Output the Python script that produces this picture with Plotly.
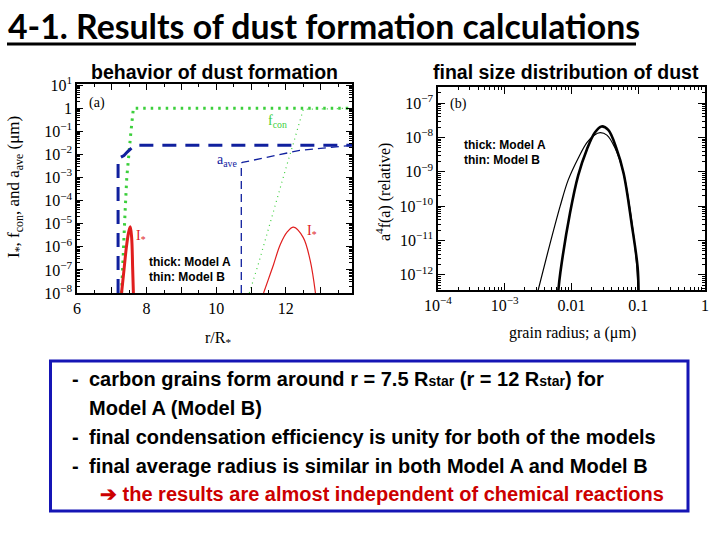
import plotly.graph_objects as go

W, H = 720, 540

# ---------------- data: panel (a) ----------------
# Model A (thick)
fconA_r = [7.28, 7.33, 7.38, 7.43, 7.48, 7.55, 7.62, 13.9]
fconA_v = [1e-8, 1e-6, 3e-5, 1e-3, 1e-2, 1e-1, 1.0, 1.0]
aaveA_r = [7.18, 7.18, 7.25, 7.35, 7.45, 7.55, 7.65, 13.9]
aaveA_v = [1e-8, 7e-3, 7.5e-3, 9e-3, 1.3e-2, 1.9e-2, 2.5e-2, 2.5e-2]
IA_r = [7.28, 7.35, 7.42, 7.48, 7.53, 7.57, 7.60, 7.62]
IA_v = [1e-8, 1e-7, 1e-6, 4e-6, 7.4e-6, 2.5e-6, 1e-7, 1e-8]
# Model B (thin)
fconB_r = [10.95, 11.2, 11.5, 11.8, 12.0, 12.2, 12.35, 12.5, 13.9]
fconB_v = [1e-8, 1.6e-7, 6e-6, 2.5e-4, 2.5e-3, 2.5e-2, 0.16, 0.9, 1.0]
aaveB_r = [10.72, 10.72, 10.75, 11.5, 12.4, 13.9]
aaveB_v = [1e-8, 4.2e-3, 4.5e-3, 8e-3, 1.5e-2, 2.5e-2]
IB_r = [11.36, 11.5, 11.64, 11.84, 12.04, 12.22, 12.5, 12.7, 12.85]
IB_v = [1e-8, 4e-8, 1.6e-7, 1.26e-6, 4.4e-6, 7.1e-6, 2.5e-6, 2.5e-7, 1e-8]

# ---------------- data: panel (b) ----------------
sizeA_a = [0.0063, 0.0068, 0.0095, 0.0126, 0.017, 0.0224, 0.0282, 0.0355, 0.0468, 0.0603, 0.0794, 0.0977, 0.101]
sizeA_f = [3.0e-13, 1.15e-12, 6.3e-11, 7.9e-10, 4.5e-9, 1.4e-8, 2.1e-8, 1.66e-8, 5e-9, 9.1e-10, 3.2e-11, 1.7e-12, 3.0e-13]
sizeB_a = [0.00309, 0.00447, 0.00676, 0.00891, 0.0126, 0.017, 0.0219, 0.0269, 0.0339, 0.0447, 0.0603, 0.0794, 0.0955, 0.0989]
sizeB_f = [3.0e-13, 5e-12, 1e-10, 5.75e-10, 2.5e-9, 7.1e-9, 1.17e-8, 1.38e-8, 1.17e-8, 5e-9, 8.9e-10, 4e-11, 1.6e-12, 3.0e-13]

# tick labels
ya_vals = [10, 1, 1e-1, 1e-2, 1e-3, 1e-4, 1e-5, 1e-6, 1e-7, 1e-8]
ya_text = ["10<sup>1</sup>", "1"] + ["10<sup>\u2212%d</sup>" % k for k in range(1, 9)]
xa_vals = [6, 7, 8, 9, 10, 11, 12, 13]
xa_text = ["6", "", "8", "", "10", "", "12", ""]
yb_vals = [1e-7, 1e-8, 1e-9, 1e-10, 1e-11, 1e-12]
yb_text = ["10<sup>\u2212%d</sup>" % k for k in range(7, 13)]
xb_vals = [1e-4, 1e-3, 1e-2, 1e-1, 1]
xb_text = ["10<sup>\u22124</sup>", "10<sup>\u22123</sup>", "0.01", "0.1", "1"]

GREEN = "#3ccf3c"
BLUE = "#10209e"
RED = "#e01e1e"

fig = go.Figure()

def add(x, y, color, width, dash, xa="x", ya="y", shape="linear"):
    fig.add_trace(go.Scatter(x=x, y=y, mode="lines", xaxis=xa, yaxis=ya,
                             line=dict(color=color, width=width, dash=dash, shape=shape),
                             showlegend=False, hoverinfo="skip"))

add(fconB_r, fconB_v, GREEN, 1.2, "1px,4px")
add(aaveB_r, aaveB_v, BLUE, 1.3, "8px,5px")
add(IB_r, IB_v, RED, 1.2, "solid", shape="spline")
add(fconA_r, fconA_v, GREEN, 3, "2.5px,5px")
add(aaveA_r, aaveA_v, BLUE, 3, "14px,9px")
add(IA_r, IA_v, RED, 3, "solid", shape="spline")

add(sizeB_a, sizeB_f, "black", 1.2, "solid", "x2", "y2", "spline")
add(sizeA_a, sizeA_f, "black", 2.6, "solid", "x2", "y2", "spline")

def px(x): return x / W
def py(y): return 1 - y / H

tickfont = dict(family="Liberation Serif, DejaVu Serif, serif", size=16, color="black")
common = dict(showline=True, linecolor="black", linewidth=1.5, mirror="allticks",
              ticks="inside", tickcolor="black", showgrid=False, zeroline=False,
              tickfont=tickfont, automargin=False)
logminor = dict(ticks="inside", ticklen=3, dtick="D1", tickcolor="black", tickwidth=0.8)

fig.update_layout(
    width=W, height=H, margin=dict(l=0, r=0, t=0, b=0, pad=0, autoexpand=False),
    paper_bgcolor="white", plot_bgcolor="white", showlegend=False,
    xaxis=dict(domain=[px(77), px(352)], range=[6, 13.9], anchor="y",
               tickvals=xa_vals, ticktext=xa_text, ticklen=6,
               minor=dict(ticks="inside", ticklen=3, dtick=0.5, tickcolor="black"), **common),
    yaxis=dict(domain=[py(293), py(84)], type="log", range=[-8, 1.05], anchor="x",
               tickvals=ya_vals, ticktext=ya_text, ticklen=6, minor=logminor, **common),
    xaxis2=dict(domain=[px(438), px(705)], type="log", range=[-4, 0], anchor="y2",
                tickvals=xb_vals, ticktext=xb_text, ticklen=7, minor=logminor, **common),
    yaxis2=dict(domain=[py(290), py(87)], type="log", range=[-12.44, -6.53], anchor="x2",
                tickvals=yb_vals, ticktext=yb_text, ticklen=7, minor=logminor, **common),
)

serif = "Liberation Serif, DejaVu Serif, serif"
sans = "Liberation Sans, Arial, sans-serif"
ann = []

def A(x, y, text, size, family, color="black", xanchor="center", yanchor="middle", angle=0):
    ann.append(dict(x=px(x), y=py(y), xref="paper", yref="paper", text=text, showarrow=False,
                    xanchor=xanchor, yanchor=yanchor, textangle=angle,
                    font=dict(size=size, family=family, color=color)))

# main title
A(6, 26, "<b>4-1. Results of dust formation calculations</b>", 33.8,
  "Lato, Liberation Sans, sans-serif", xanchor="left")
# panel titles
A(214, 72, "<b>behavior of dust formation</b>", 19.5, sans)
A(566, 72, "<b>final size distribution of dust</b>", 19.5, sans)
# axis titles
A(15, 187, "I<sub>*</sub>, f<sub>con</sub>, and a<sub>ave</sub> (\u03bcm)", 17, serif, angle=-90)
A(218, 338, "r/R<sub>*</sub>", 16, serif)
A(383, 192, "a<sup>4</sup>f(a) (relative)", 16, serif, angle=-90)
A(572, 333, "grain radius; a (\u03bcm)", 16, serif)
# panel labels
A(97, 103, "(a)", 14, serif)
A(459, 104, "(b)", 14, serif)
A(277, 122, "f<sub>con</sub>", 14, serif, color=GREEN)
A(227, 160, "a<sub>ave</sub>", 14, serif, color=BLUE)
A(141, 236, "I<sub>*</sub>", 14, serif, color=RED)
A(312, 231, "I<sub>*</sub>", 14, serif, color=RED)
# model notes
A(147, 262, "<b>thick: Model A</b>", 12, sans, xanchor="left")
A(147, 277, "<b>thin: Model B</b>", 12, sans, xanchor="left")
A(462, 145, "<b>thick: Model A</b>", 12, sans, xanchor="left")
A(462, 160, "<b>thin: Model B</b>", 12, sans, xanchor="left")

# text box
bsz = 20
small = "<span style='font-size:14px'>star</span>"
A(70, 379, "<b>-</b>", bsz, sans, xanchor="left")
A(87, 379, "<b>carbon grains form around r = 7.5 R" + small + " (r = 12 R" + small + ") for</b>", bsz, sans, xanchor="left")
A(87, 408, "<b>Model A (Model B)</b>", bsz, sans, xanchor="left")
A(70, 437, "<b>-</b>", bsz, sans, xanchor="left")
A(87, 437, "<b>final condensation efficiency is unity for both of the models</b>", bsz, sans, xanchor="left")
A(70, 466, "<b>-</b>", bsz, sans, xanchor="left")
A(87, 466, "<b>final average radius is similar in both Model A and Model B</b>", bsz, sans, xanchor="left")
A(98, 494, "<b>\u2794 the results are almost independent of chemical reactions</b>", bsz, sans,
  color="#cc0000", xanchor="left")

fig.update_layout(annotations=ann)

fig.add_shape(type="line", xref="paper", yref="paper", x0=px(7), x1=px(636), y0=py(44), y1=py(44),
              line=dict(color="black", width=3))
fig.add_shape(type="rect", xref="paper", yref="paper", x0=px(50.5), x1=px(688), y0=py(511), y1=py(361),
              line=dict(color="#1515b5", width=3))

fig.write_html("out.html")
